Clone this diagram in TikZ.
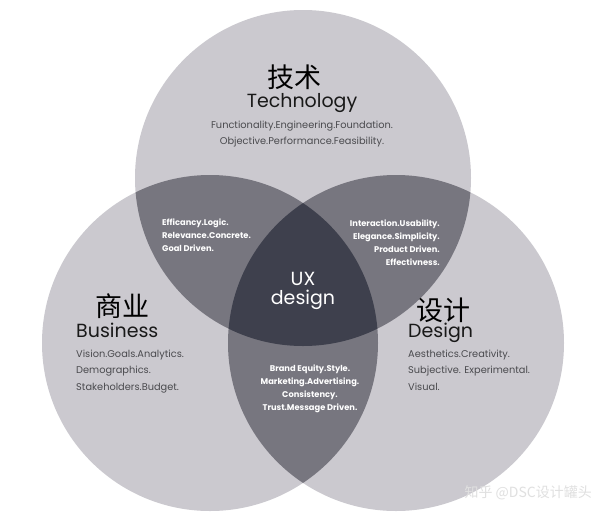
\documentclass[tikz,border=0pt]{standalone}
\usepackage{fontspec}
\setmainfont{Poppins}
\newfontfamily\cjk{Noto Sans CJK SC}
\usetikzlibrary{positioning}
\definecolor{ringgray}{HTML}{CBC9CF}
\definecolor{pairgray}{HTML}{77767F}
\definecolor{coregray}{HTML}{3E404D}
\definecolor{notegray}{HTML}{4A4A4E}

\begin{document}
\begin{tikzpicture}[x=1pt, y=-1pt]
\tikzstyle{cname} = [font=\cjk\fontsize{27}{27}\selectfont, text=black, inner sep=0pt]
\tikzstyle{ename} = [font=\fontsize{19}{19}\selectfont, text=black!90, inner sep=0pt]
\tikzstyle{notes} = [font=\fontsize{9.8}{16.3}\selectfont, text=notegray, inner sep=0pt]
\tikzstyle{pairnotes} = [font=\bfseries\fontsize{8.3}{12.8}\selectfont, text=white, inner sep=0pt]
\useasboundingbox (0,0) rectangle (600,520);
\fill[white] (0,0) rectangle (600,520);

    % Circles
    \coordinate (tech) at (303,178);
    \coordinate (busi) at (210,343);
    \coordinate (desi) at (396,343);
    \fill[ringgray] (tech) circle (168) (busi) circle (168) (desi) circle (168);
    \begin{scope}
        \clip (tech) circle (168);
        \fill[pairgray] (busi) circle (168) (desi) circle (168);
    \end{scope}
    \begin{scope}
        \clip (busi) circle (168);
        \fill[pairgray] (desi) circle (168);
    \end{scope}
    \begin{scope}
        \clip (tech) circle (168);
        \clip (busi) circle (168);
        \fill[coregray] (desi) circle (168);
    \end{scope}

    % Place nodes
    \node [cname] (techcn) at (294,77) {技术};
    \node [ename] (techen) at (302,103) {Technology};
    \node [notes, align=center, below=8pt of techen] (technotes)
        {Functionality.Engineering.Foundation.\\Objective.Performance.Feasibility.};

    \node [cname, anchor=west] (busicn) at (95,306) {商业};
    \node [ename, anchor=north west] (busien) at (76,323) {Business};
    \node [notes, align=left, anchor=north west] (businotes) at (76,350)
        {Vision.Goals.Analytics.\\Demographics.\\Stakeholders.Budget.};

    \node [cname, anchor=west] (desicn) at (416,310) {设计};
    \node [ename, anchor=north west] (desien) at (408,323) {Design};
    \node [notes, align=left, anchor=north west] (desinotes) at (408,350)
        {Aesthetics.Creativity.\\Subjective. Experimental.\\Visual.};

    \node [pairnotes, align=left, anchor=north west] (tbnotes) at (162,219)
        {Efficancy.Logic.\\Relevance.Concrete.\\Goal Driven.};
    \node [pairnotes, align=right, anchor=north east] (tdnotes) at (440,220)
        {Interaction.Usability.\\Elegance.Simplicity.\\Product Driven.\\Effectivness.};
    \node [pairnotes, align=center, anchor=north] (bdnotes) at (310,365)
        {Brand Equity.Style.\\Marketing.Advertising.\\Consistency.\\Trust.Message Driven.};

    \node [font=\fontsize{19}{19}\selectfont, text=white, align=center, inner sep=0pt] (ux) at (303,291)
        {UX\\design};

    \node [font=\cjk\fontsize{14}{14}\selectfont, text=white!88!black, anchor=east, inner sep=0pt] (mark) at (592,493)
        {知乎 @DSC设计罐头};
\end{tikzpicture}
\end{document}
